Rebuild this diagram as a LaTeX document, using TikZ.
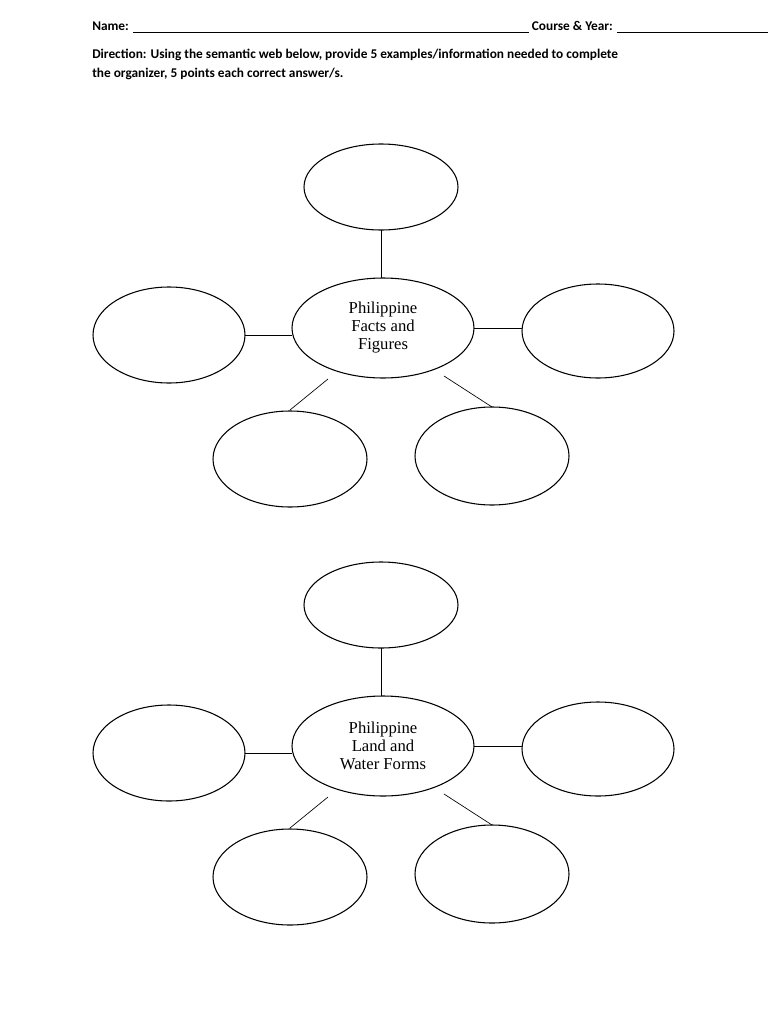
\documentclass[tikz,border=0pt]{standalone}
\usepackage{fontspec}
\setmainfont{Carlito}
\newfontfamily\serifb{Liberation Serif}
\begin{document}
\begin{tikzpicture}[x=0.75pt,y=-0.75pt,
  bub/.style={draw,line width=0.8pt},
  con/.style={line width=0.5pt},
  hdr/.style={anchor=base west,inner sep=0pt,font=\fontsize{10}{12}\selectfont\bfseries},
  ctr/.style={align=center,font=\serifb\fontsize{12.5}{13.5}\selectfont}]
\useasboundingbox (0,0) rectangle (768,1024);
\node[hdr] (name) at (92,31) {Name: \rule[-1pt]{297pt}{0.5pt} Course \& Year: \rule[-1pt]{113pt}{0.5pt}};
\node[hdr] (d1) at (92,59) {Direction: Using the semantic web below, provide 5 examples/information needed to complete};
\node[hdr] (d2) at (92,78) {the organizer, 5 points each correct answer/s.};
\foreach \dy/\n/\t in {0/a/{Philippine\\Facts and\\Figures},418/b/{Philippine\\Land and\\Water Forms}}{
  \begin{scope}[yshift=-\dy*0.75pt]
  \draw[bub] (381,187) ellipse [x radius=77,y radius=43];
  \draw[bub] (383,328) ellipse [x radius=91,y radius=50];
  \draw[bub] (169,335) ellipse [x radius=76,y radius=48];
  \draw[bub] (598,331) ellipse [x radius=76,y radius=47];
  \draw[bub] (290,459) ellipse [x radius=77,y radius=48];
  \draw[bub] (492,456) ellipse [x radius=77,y radius=49];
  \node[ctr] (c\n) at (383,328) {\t};
  \coordinate (t1\n) at (381,230); \coordinate (t2\n) at (381,278);
  \coordinate (l1\n) at (245,335); \coordinate (l2\n) at (292,335);
  \coordinate (r1\n) at (474,328); \coordinate (r2\n) at (522,328);
  \coordinate (bl1\n) at (328,379); \coordinate (bl2\n) at (290,410);
  \coordinate (br1\n) at (444,376); \coordinate (br2\n) at (492,407);
  \draw[con] (t1\n) -- (t2\n);
  \draw[con] (l1\n) -- (l2\n);
  \draw[con] (r1\n) -- (r2\n);
  \draw[con] (bl1\n) -- (bl2\n);
  \draw[con] (br1\n) -- (br2\n);
  \end{scope}}
\end{tikzpicture}
\end{document}
